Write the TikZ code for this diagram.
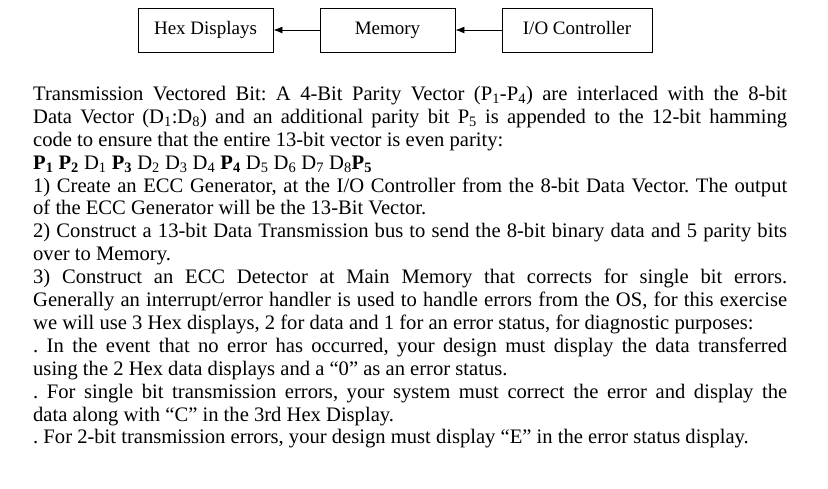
\documentclass[tikz,border=0pt]{standalone}
\usepackage{fontspec}
\usetikzlibrary{arrows.meta}
\setmainfont{Liberation Serif}
\begin{document}
\frenchspacing
\begin{tikzpicture}[x=1pt,y=-1pt,
  blk/.style={draw,line width=0.9pt,minimum height=44pt,inner sep=0pt,text height=13pt,text depth=4pt,font=\fontsize{19}{22}\selectfont},
  arr/.style={-{Latex[length=9pt,width=7pt]},line width=0.9pt}]
\useasboundingbox (0,0) rectangle (828,489);
\node[blk,minimum width=135pt] (hex) at (205.5,30) {Hex Displays};
\node[blk,minimum width=135pt] (mem) at (387.5,30) {Memory};
\node[blk,minimum width=150pt] (io) at (577,30) {I/O Controller};
\draw[arr] (mem.west) -- (hex.east);
\draw[arr] (io.west) -- (mem.east);
\node[anchor=north west,inner sep=0pt,text width=754pt,align=justify,
  font=\fontsize{20.6}{22.9}\selectfont] (txt) at (33,86) {%
Transmission Vectored Bit: A 4-Bit Parity Vector (P\textsubscript{1}-P\textsubscript{4}) are interlaced with the 8-bit\linebreak
Data Vector (D\textsubscript{1}:D\textsubscript{8}) and an additional parity bit P\textsubscript{5} is appended to the 12-bit hamming\linebreak
code to ensure that the entire 13-bit vector is even parity:\\
\textbf{P\textsubscript{1} P\textsubscript{2}} D\textsubscript{1} \textbf{P\textsubscript{3}} D\textsubscript{2} D\textsubscript{3} D\textsubscript{4} \textbf{P\textsubscript{4}} D\textsubscript{5} D\textsubscript{6} D\textsubscript{7} D\textsubscript{8}\textbf{P\textsubscript{5}}\\
1) Create an ECC Generator, at the I/O Controller from the 8-bit Data Vector. The output\linebreak
of the ECC Generator will be the 13-Bit Vector.\\
2) Construct a 13-bit Data Transmission bus to send the 8-bit binary data and 5 parity bits\linebreak
over to Memory.\\
3) Construct an ECC Detector at Main Memory that corrects for single bit errors.\linebreak
Generally an interrupt/error handler is used to handle errors from the OS, for this exercise\linebreak
we will use 3 Hex displays, 2 for data and 1 for an error status, for diagnostic purposes:\\
. In the event that no error has occurred, your design must display the data transferred\linebreak
using the 2 Hex data displays and a “0” as an error status.\\
. For single bit transmission errors, your system must correct the error and display the\linebreak
data along with “C” in the 3rd Hex Display.\\
. For 2-bit transmission errors, your design must display “E” in the error status display.};
\end{tikzpicture}
\end{document}
